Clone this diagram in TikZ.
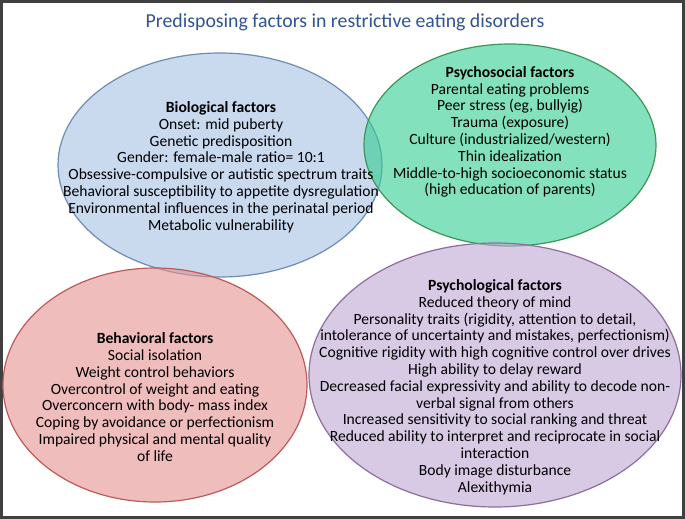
\documentclass[tikz,border=0pt]{standalone}
\usepackage{fontspec}
\setmainfont{Carlito}
\begin{document}
\begin{tikzpicture}[x=1pt,y=-1pt,
  txt/.style={align=center,font=\fontsize{15.6}{16.8}\selectfont,text=black},
  ell/.style={draw,line width=1.2pt,fill opacity=0.6}]
\useasboundingbox (0,0) rectangle (685,519);
\fill[white] (0,0) rectangle (685,519);
\draw[line width=3pt,black!75] (1.5,1.5) rectangle (683.5,517.5);
\node[font=\fontsize{19.8}{22}\selectfont,text={rgb,255:red,47;green,84;blue,150}] (title) at (345,22) {Predisposing factors in restrictive eating disorders};
\definecolor{bioF}{RGB}{165,192,228}\definecolor{bioD}{RGB}{110,140,180}
\definecolor{psF}{RGB}{50,205,145}\definecolor{psD}{RGB}{60,150,90}
\definecolor{pyF}{RGB}{190,165,212}\definecolor{pyD}{RGB}{140,110,160}
\definecolor{beF}{RGB}{230,145,145}\definecolor{beD}{RGB}{190,90,90}
\draw[ell,fill=bioF,draw=bioD] (220,165) ellipse [x radius=162,y radius=112];
\draw[ell,fill=psF,draw=psD] (510,145) ellipse [x radius=146,y radius=101];
\draw[ell,fill=beF,draw=beD] (155,385) ellipse [x radius=152,y radius=117];
\draw[ell,fill=pyF,draw=pyD] (495,375) ellipse [x radius=186,y radius=132];
\node[txt] (bio) at (221,167) {\textbf{Biological factors}\\Onset: mid puberty\\Genetic predisposition\\Gender: female-male ratio= 10:1\\Obsessive-compulsive or autistic spectrum traits\\Behavioral susceptibility to appetite dysregulation\\Environmental influences in the perinatal period\\Metabolic vulnerability};
\node[txt] (ps) at (510,132) {\textbf{Psychosocial factors}\\Parental eating problems\\Peer stress (eg, bullyig)\\Trauma (exposure)\\Culture (industrialized/western)\\Thin idealization\\Middle-to-high socioeconomic status\\(high education of parents)};
\node[txt] (py) at (495,387) {\textbf{Psychological factors}\\Reduced theory of mind\\Personality traits (rigidity, attention to detail,\\intolerance of uncertainty and mistakes, perfectionism)\\Cognitive rigidity with high cognitive control over drives\\High ability to delay reward\\Decreased facial expressivity and ability to decode non-\\verbal signal from others\\Increased sensitivity to social ranking and threat\\Reduced ability to interpret and reciprocate in social\\interaction\\Body image disturbance\\Alexithymia};
\node[txt] (be) at (155,397) {\textbf{Behavioral factors}\\Social isolation\\Weight control behaviors\\Overcontrol of weight and eating\\Overconcern with body- mass index\\Coping by avoidance or perfectionism\\Impaired physical and mental quality\\of life};
\end{tikzpicture}
\end{document}
